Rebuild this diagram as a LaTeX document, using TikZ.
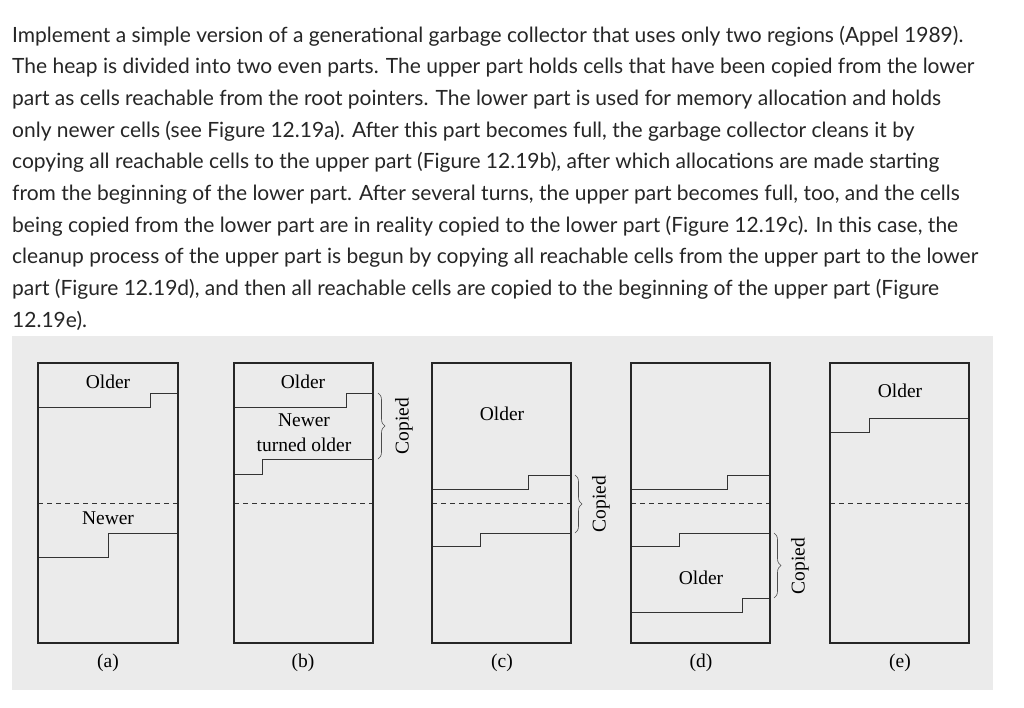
\documentclass[tikz,border=0pt]{standalone}
\usepackage{fontspec}
\setmainfont{Liberation Serif}
\newfontfamily\bodyfont{Lato}
\usetikzlibrary{decorations.pathreplacing}
\begin{document}
\begin{tikzpicture}[x=1pt,y=-1pt,
  heap/.style={draw=black!85,line width=1.4pt},
  cut/.style={draw=black!80,line width=0.9pt},
  divide/.style={draw=black!80,line width=0.9pt,dash pattern=on 5pt off 4pt},
  brc/.style={draw=black!70,line width=0.6pt,decorate,decoration={brace,amplitude=7pt}},
  lbl/.style={font=\fontsize{19.5}{22}\selectfont,inner sep=0pt},
  para/.style={font=\bodyfont\fontsize{21}{24}\selectfont,anchor=base west,inner sep=0pt,text=black!85}]
\useasboundingbox (0,0) rectangle (1024,707);
\fill[white] (0,0) rectangle (1024,707);
\fill[black!8] (12,336) rectangle (993,690);
% paragraph
\node[para] (l1) at (12,42) {Implement a simple version of a generational garbage collector that uses only two regions (Appel 1989).};
\node[para] (l2) at (12,73.7) {The heap is divided into two even parts. The upper part holds cells that have been copied from the lower};
\node[para] (l3) at (12,105.4) {part as cells reachable from the root pointers. The lower part is used for memory allocation and holds};
\node[para] (l4) at (12,137.1) {only newer cells (see Figure 12.19a). After this part becomes full, the garbage collector cleans it by};
\node[para] (l5) at (12,168.8) {copying all reachable cells to the upper part (Figure 12.19b), after which allocations are made starting};
\node[para] (l6) at (12,200.5) {from the beginning of the lower part. After several turns, the upper part becomes full, too, and the cells};
\node[para] (l7) at (12,232.2) {being copied from the lower part are in reality copied to the lower part (Figure 12.19c). In this case, the};
\node[para] (l8) at (12,263.9) {cleanup process of the upper part is begun by copying all reachable cells from the upper part to the lower};
\node[para] (l9) at (12,295.6) {part (Figure 12.19d), and then all reachable cells are copied to the beginning of the upper part (Figure};
\node[para] (l10) at (12,327.3) {12.19e).};
% (a)
\draw[cut] (38,407) -- (150,407) -- (150,393) -- (178,393);
\draw[divide] (38,503) -- (178,503);
\draw[cut] (38,557) -- (108,557) -- (108,533) -- (178,533);
\draw[heap] (38,363) rectangle (178,643);
\node[lbl] (ao) at (108,382) {Older};
\node[lbl] (an) at (108,518) {Newer};
\node[lbl] (al) at (108,663) {(a)};
% (b)
\draw[cut] (234,407) -- (346,407) -- (346,393) -- (373,393);
\draw[cut] (234,474) -- (262,474) -- (262,459) -- (373,459);
\draw[divide] (234,503) -- (373,503);
\draw[heap] (234,363) rectangle (373,643);
\node[lbl] (bo) at (303,382) {Older};
\node[lbl] (bn) at (304,420) {Newer};
\node[lbl] (bt) at (304,445) {turned older};
\node[lbl] (bl) at (303,663) {(b)};
\coordinate (b1) at (378,393); \coordinate (b2) at (378,459);
\draw[brc] (b1) -- (b2);
\node[lbl,rotate=90] (bc) at (404,426) {Copied};
% (c)
\draw[cut] (432,489) -- (528,489) -- (528,475) -- (571,475);
\draw[divide] (432,503) -- (571,503);
\draw[cut] (432,546) -- (480,546) -- (480,533) -- (571,533);
\draw[heap] (432,363) rectangle (571,643);
\node[lbl] (co) at (502,414) {Older};
\node[lbl] (cl) at (502,663) {(c)};
\coordinate (c1) at (575,475); \coordinate (c2) at (575,533);
\draw[brc] (c1) -- (c2);
\node[lbl,rotate=90] (cc) at (601,504) {Copied};
% (d)
\draw[cut] (631,489) -- (727,489) -- (727,475) -- (770,475);
\draw[divide] (631,503) -- (770,503);
\draw[cut] (631,546) -- (679,546) -- (679,533) -- (770,533);
\draw[cut] (631,612) -- (742,612) -- (742,598) -- (770,598);
\draw[heap] (631,363) rectangle (770,643);
\node[lbl] (do) at (701,578) {Older};
\node[lbl] (dl) at (701,663) {(d)};
\coordinate (d1) at (774,533); \coordinate (d2) at (774,598);
\draw[brc] (d1) -- (d2);
\node[lbl,rotate=90] (dc) at (800,566) {Copied};
% (e)
\draw[cut] (830,432) -- (869,432) -- (869,418) -- (969,418);
\draw[divide] (830,503) -- (969,503);
\draw[heap] (830,363) rectangle (969,643);
\node[lbl] (eo) at (900,391) {Older};
\node[lbl] (el) at (900,663) {(e)};
\end{tikzpicture}
\end{document}
